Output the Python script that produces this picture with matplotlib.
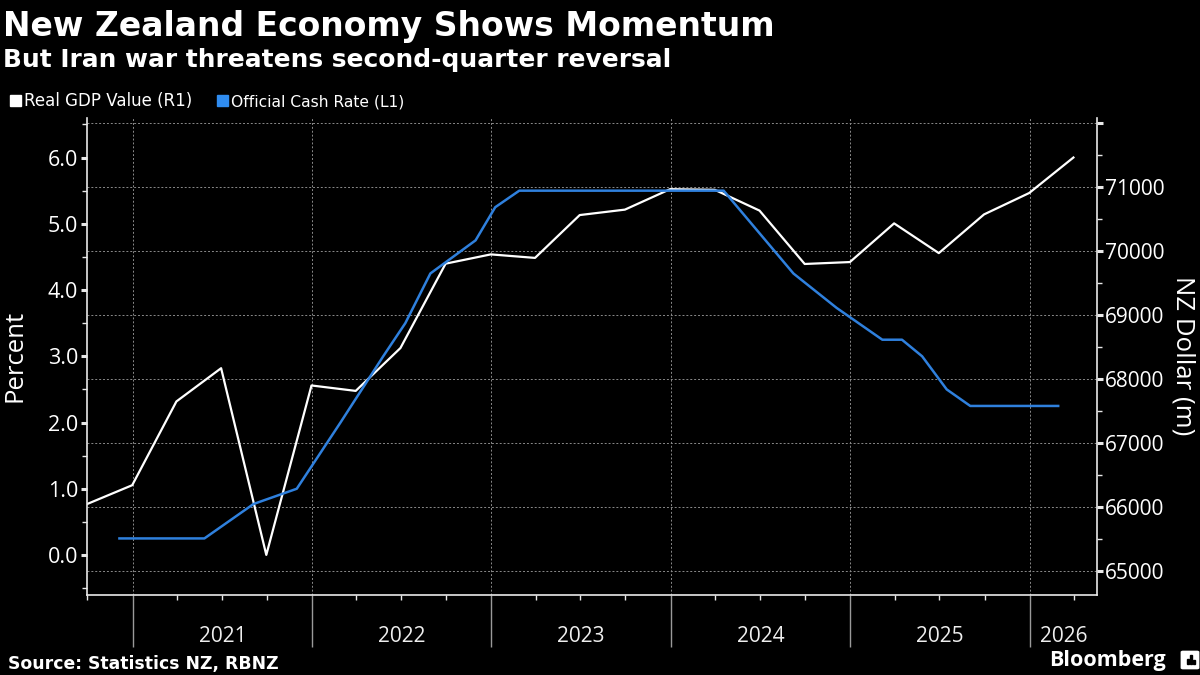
import matplotlib
matplotlib.use('Agg')
import matplotlib.pyplot as plt
import matplotlib.dates as mdates
import matplotlib.ticker as mticker
from matplotlib.patches import Rectangle, FancyBboxPatch
import pandas as pd

# Real GDP value (NZ$ m), quarter end
gdp_dates = ['2020-09-30', '2020-12-31', '2021-03-31', '2021-06-30', '2021-09-30',
             '2021-12-31', '2022-03-31', '2022-06-30', '2022-09-30', '2022-12-31',
             '2023-03-31', '2023-06-30', '2023-09-30', '2023-12-31', '2024-03-31',
             '2024-06-30', '2024-09-30', '2024-12-31', '2025-03-31', '2025-06-30',
             '2025-09-30', '2025-12-31', '2026-03-31']
gdp_values = [66040, 66335, 67645, 68165, 65245, 67895, 67810, 68480, 69800, 69945,
              69890, 70560, 70645, 70965, 70955, 70630, 69795, 69825, 70430, 69965,
              70570, 70905, 71460]

# Official cash rate (%)
ocr_dates = ['2020-12-05', '2021-05-27', '2021-09-04', '2021-12-01', '2022-02-28',
             '2022-05-26', '2022-07-10', '2022-08-30', '2022-11-30', '2023-01-09',
             '2023-02-27', '2024-04-18', '2024-09-07', '2024-12-04', '2025-03-07',
             '2025-04-16', '2025-05-27', '2025-07-16', '2025-09-02', '2026-02-28']
ocr_values = [0.25, 0.25, 0.77, 1.0, 2.0, 3.0, 3.5, 4.25, 4.75, 5.25,
              5.5, 5.5, 4.25, 3.73, 3.25, 3.25, 3.0, 2.5, 2.25, 2.25]

year_labels = [2021, 2022, 2023, 2024, 2025, 2026]

W, H = 1200, 675
PX = 0.72  # one pixel in points at 100 dpi
BLUE = '#2f80dd'
GRID = '#8a8a8a'
SPINE = '#e8e8e8'

plt.rcParams['font.family'] = ['Open Sans', 'DejaVu Sans']

fig = plt.figure(figsize=(W / 100, H / 100), dpi=100, facecolor='black')
ax = fig.add_axes([87 / W, 1 - 595 / H, (1097 - 87) / W, (595 - 118) / H])
ax2 = ax.twinx()

# OCR drawn above GDP
ax.set_zorder(ax2.get_zorder() + 1)
ax.patch.set_visible(False)
ax2.patch.set_visible(False)

ax2.plot(pd.to_datetime(gdp_dates), gdp_values, color='white', lw=1.6)
ax.plot(pd.to_datetime(ocr_dates), ocr_values, color=BLUE, lw=1.8)

ax.set_xlim(pd.Timestamp('2020-09-30'), pd.Timestamp('2026-05-18'))
ax.set_ylim(-0.604, 6.597)
ax2.set_ylim(64618, 72078)

# x axis: year separators and quarterly ticks
ax.xaxis.set_major_locator(mdates.YearLocator())
ax.xaxis.set_minor_locator(mdates.MonthLocator(bymonth=[1, 4, 7, 10]))
ax.tick_params(axis='x', which='major', length=52 * PX, width=1, color='#9a9a9a',
               labelbottom=False)
ax.tick_params(axis='x', which='minor', length=5 * PX, width=1, color=SPINE,
               labelbottom=False)

# vertical grid on the lower axes so it stays under the lines
ax2.xaxis.set_visible(True)
ax2.tick_params(axis='x', which='both', bottom=False, top=False,
                labelbottom=False, labeltop=False)
ax2.grid(axis='x', which='major', color=GRID, ls=(0, (2, 2)), lw=0.7)
ax2.grid(axis='y', which='major', color=GRID, ls=(0, (2, 2)), lw=0.7)

# left axis
ax.yaxis.set_major_locator(mticker.MultipleLocator(1))
ax.yaxis.set_minor_locator(mticker.MultipleLocator(0.5))
ax.yaxis.set_major_formatter(mticker.FormatStrFormatter('%.1f'))
ax.tick_params(axis='y', which='major', length=6 * PX, width=2.2, color=SPINE,
               labelcolor='white', labelsize=15.5, pad=3 * PX)
ax.tick_params(axis='y', which='minor', length=5 * PX, width=1, color=SPINE)

# right axis
ax2.yaxis.set_major_locator(mticker.MultipleLocator(1000))
ax2.yaxis.set_minor_locator(mticker.MultipleLocator(500))
ax2.yaxis.set_major_formatter(
    mticker.FuncFormatter(lambda v, p: '' if v > 71500 else f'{v:.0f}'))
ax2.tick_params(axis='y', which='major', length=6 * PX, width=2.2, color=SPINE,
                labelcolor='white', labelsize=15, pad=2 * PX)
ax2.tick_params(axis='y', which='minor', length=5 * PX, width=1, color=SPINE)

for side in ['top', 'right']:
    ax.spines[side].set_visible(False)
for side in ['top', 'left', 'bottom']:
    ax2.spines[side].set_visible(False)
for a in (ax, ax2):
    for sp in a.spines.values():
        sp.set_color(SPINE)
        sp.set_linewidth(1.2)

# year labels centred in each year span
x0, x1 = ax.get_xlim()
for yr in year_labels:
    start = max(mdates.date2num(pd.Timestamp(f'{yr}-01-01')), x0)
    end = min(mdates.date2num(pd.Timestamp(f'{yr + 1}-01-01')), x1)
    ax.text((start + end) / 2, -0.099, str(yr), transform=ax.get_xaxis_transform(),
            ha='center', va='baseline', fontsize=15, color='#eeeeee')

# axis titles
fig.text(15.5 / W, 1 - 356 / H, 'Percent', rotation=90, ha='center', va='center',
         fontsize=18.5, color='white')
fig.text(1183 / W, 1 - 356 / H, 'NZ Dollar (m)', rotation=270, ha='center',
         va='center', fontsize=18.5, color='white')

# titles
fig.text(3 / W, 1 - 36 / H, 'New Zealand Economy Shows Momentum', ha='left',
         va='baseline', fontsize=23.8, weight='bold', color='white',
         family='DejaVu Sans')
fig.text(3 / W, 1 - 67 / H, 'But Iran war threatens second-quarter reversal',
         ha='left', va='baseline', fontsize=17.9, weight='bold', color='white',
         family='DejaVu Sans')

# legend
fig.add_artist(Rectangle((10 / W, 1 - 106 / H), 11 / W, 11 / H, color='white',
                         transform=fig.transFigure))
fig.text(24 / W, 1 - 106.5 / H, 'Real GDP Value (R1)', ha='left', va='baseline',
         fontsize=12, color='white', family='DejaVu Sans')
fig.add_artist(Rectangle((217 / W, 1 - 106 / H), 11 / W, 11 / H, color='#2f8cf0',
                         transform=fig.transFigure))
fig.text(231 / W, 1 - 106.5 / H, 'Official Cash Rate (L1)', ha='left',
         va='baseline', fontsize=11.2, color='white', family='DejaVu Sans')

# footer
fig.text(8 / W, 1 - 669 / H, 'Source: Statistics NZ, RBNZ', ha='left',
         va='baseline', fontsize=12.4, weight='bold', color='white',
         family='DejaVu Sans')
fig.text(1049 / W, 1 - 666 / H, 'Bloomberg', ha='left', va='baseline',
         fontsize=15.5, weight='bold', color='white')
fig.add_artist(FancyBboxPatch((1183 / W, 1 - 668 / H), 14 / W, 16 / H,
                              boxstyle='round,pad=0.002', facecolor='white',
                              edgecolor='none', transform=fig.transFigure))
for bx, bh in [(1187, 5), (1190, 9), (1193, 4)]:
    fig.add_artist(Rectangle((bx / W, 1 - 664 / H), 1.6 / W, bh / H,
                             color='black', transform=fig.transFigure))

fig.savefig('out.png', dpi=100, facecolor='black')
